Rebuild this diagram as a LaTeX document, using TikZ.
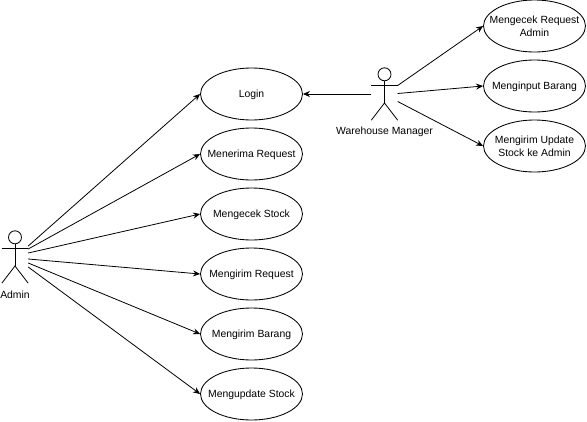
\documentclass[tikz,border=0pt]{standalone}
\usepackage{fontspec}
\setmainfont{Liberation Sans}
\usetikzlibrary{arrows.meta,calc,shapes.geometric}
\tikzset{
  usecase/.style={draw,ellipse,minimum width=102pt,minimum height=52pt,inner xsep=-12pt,inner ysep=0pt,align=center,line width=.85pt},
  oneline/.style={usecase,text height=9.5pt,text depth=2pt},
  actorbox/.style={minimum width=26pt,minimum height=52pt,inner sep=0pt},
  actorname/.style={inner sep=0pt},
  link/.style={-{Stealth[length=7pt,width=6pt]},line width=.8pt}
}
\newcommand{\stickman}[1]{
  \draw[line width=.8pt] ($(#1.north)+(0,6.5)$) circle (6.5pt);
  \draw[line width=.8pt] ($(#1.north)+(0,13)$) -- ($(#1.center)+(0,9)$);
  \draw[line width=.8pt] ($(#1.west)+(0,-8.5)$) -- ($(#1.east)+(0,-8.5)$);
  \draw[line width=.8pt] (#1.south west) -- ($(#1.center)+(0,9)$) -- (#1.south east);
}
\begin{document}
\begin{tikzpicture}[x=1pt,y=-1pt,font=\fontsize{10.4}{12.7}\selectfont]
  \useasboundingbox (0,0) rectangle (587,421);
  \fill[white] (0,0) rectangle (587,421);
  \node[oneline] (login) at (251.5,94) {Login};
  \node[oneline] (menerima) at (251.5,154) {Menerima Request};
  \node[oneline] (mengecek) at (251.5,214) {Mengecek Stock};
  \node[oneline] (request) at (251.5,274) {Mengirim Request};
  \node[oneline] (barang) at (251.5,334) {Mengirim Barang};
  \node[oneline] (update) at (251.5,394) {Mengupdate Stock};
  \node[usecase] (cekadmin) at (534.5,26) {Mengecek Request\\Admin};
  \node[oneline] (input) at (534.5,86) {Menginput Barang};
  \node[usecase] (kirim) at (534.5,146) {Mengirim Update\\Stock ke Admin};
  \node[actorbox] (admin) at (15,257) {};
  \node[actorbox] (manager) at (384.5,94) {};
  \stickman{admin}
  \stickman{manager}
  \node[actorname] (adminname) at (15,295) {Admin};
  \node[actorname] (managername) at (384.5,132) {Warehouse Manager};
  % admin
  \draw[link] ($(admin.east)+(0,-11)$) -- (login.west);
  \draw[link] ($(admin.east)+(0,-8)$) -- (menerima.west);
  \draw[link] ($(admin.east)+(0,-4)$) -- (mengecek.west);
  \draw[link] ($(admin.east)+(0,2)$) -- (request.west);
  \draw[link] ($(admin.east)+(0,6)$) -- (barang.west);
  \draw[link] ($(admin.east)+(0,10)$) -- (update.west);
  % manager
  \draw[link] (manager.west) -- (login.east);
  \draw[link] ($(manager.east)+(0,-8.5)$) -- (cekadmin.west);
  \draw[link] ($(manager.east)+(0,-.5)$) -- (input.west);
  \draw[link] ($(manager.east)+(0,7.5)$) -- (kirim.west);
\end{tikzpicture}
\end{document}
